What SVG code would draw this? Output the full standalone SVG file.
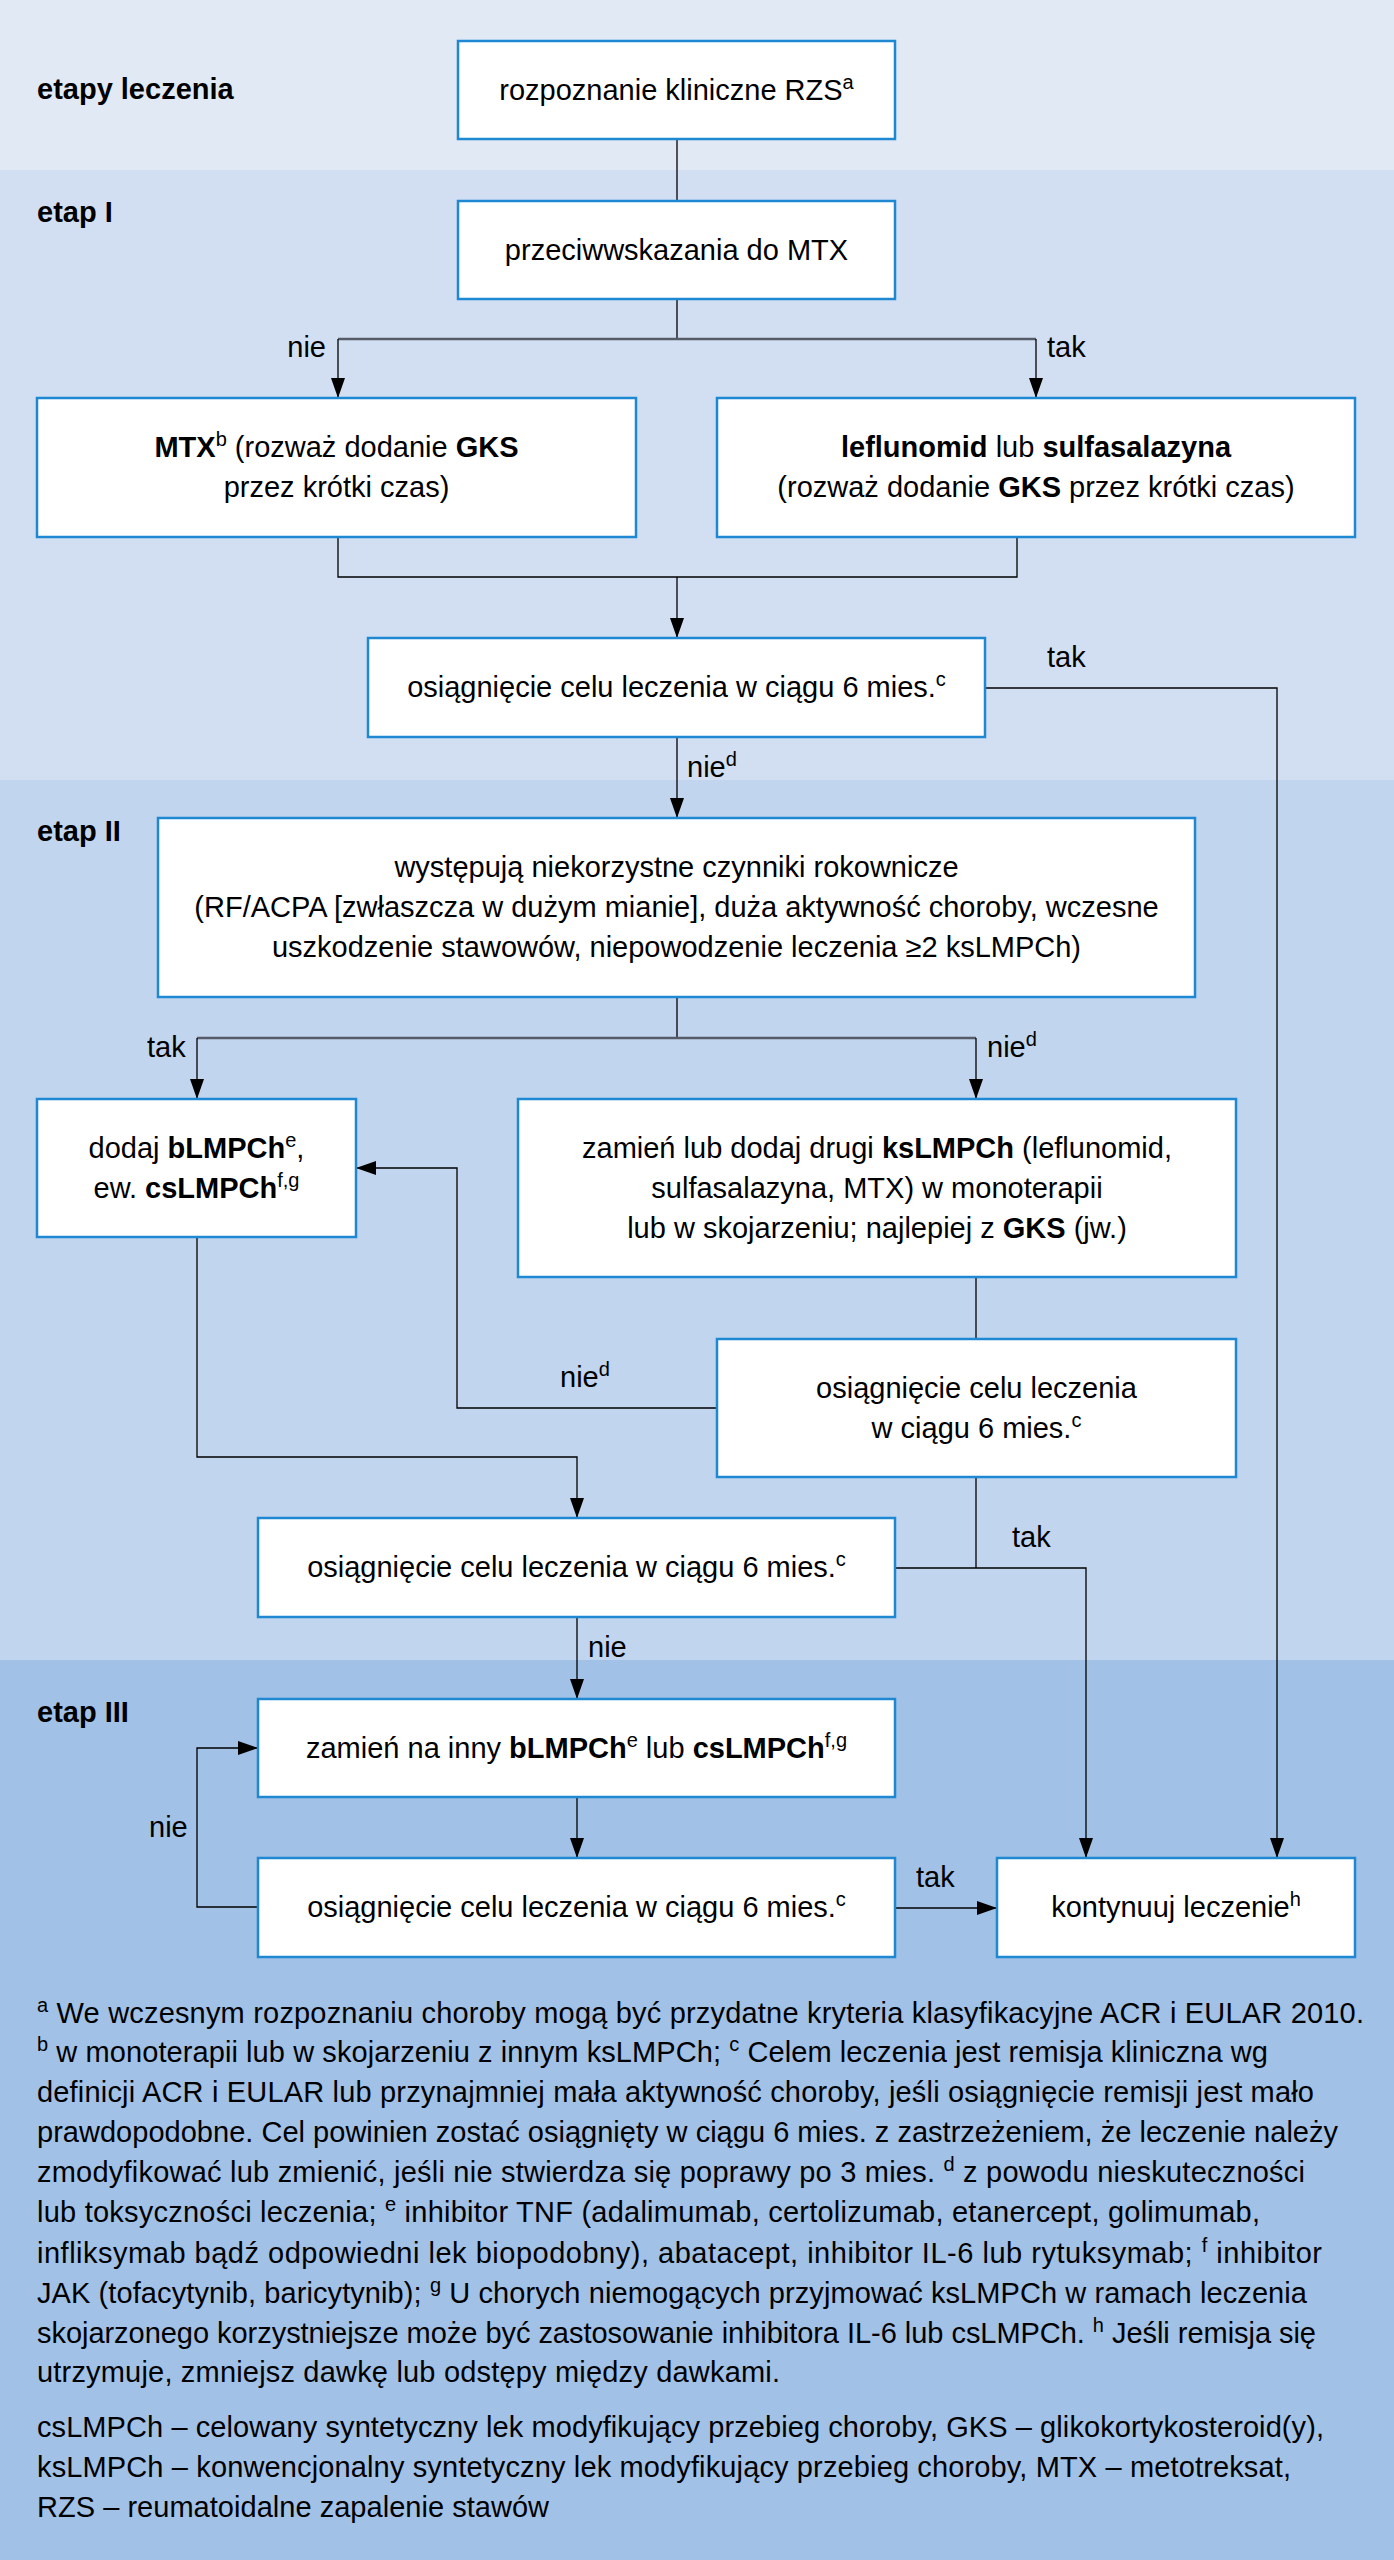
<svg xmlns="http://www.w3.org/2000/svg" width="1394" height="2560" viewBox="0 0 1394 2560">
<defs>
<style>
.t{font-family:"Liberation Sans",Arial,sans-serif;font-size:29px;fill:#000}
.m{text-anchor:middle}
.b{font-weight:bold}
.s{font-size:20px}
.box{fill:#fff;stroke:#1e88d2;stroke-width:2.5}
.ln{fill:none;stroke:#000;stroke-width:1.3}
.gr{fill:none;stroke:#555c68;stroke-width:2.4}
.ar{marker-end:url(#arr)}
</style>
<marker id="arr" markerUnits="userSpaceOnUse" markerWidth="20" markerHeight="14" refX="20" refY="7" orient="auto">
<path d="M0,0 L20,7 L0,14 z" fill="#000"/>
</marker>
</defs>
<g id="bands">
<rect x="0" y="0" width="1394" height="170" fill="#e1e9f5"/>
<rect x="0" y="170" width="1394" height="610" fill="#d2dff2"/>
<rect x="0" y="780" width="1394" height="880" fill="#c1d5ee"/>
<rect x="0" y="1660" width="1394" height="900" fill="#a2c1e6"/>
</g>
<g id="stage-labels" class="t b">
<text x="37" y="99">etapy leczenia</text>
<text x="37" y="222">etap I</text>
<text x="37" y="841">etap II</text>
<text x="37" y="1722">etap III</text>
</g>
<g id="connectors">
<path class="ln" d="M677,139 V201"/>
<path class="ln" d="M677,299 V339"/>
<path class="gr" d="M338,339 H1036"/>
<path class="ln ar" d="M338,339 V398"/>
<path class="ln ar" d="M1036,339 V398"/>
<path class="ln" d="M338,537 V577 H1017 V537"/>
<path class="ln ar" d="M677,577 V638"/>
<path class="ln ar" d="M985,688 H1277 V1858"/>
<path class="ln ar" d="M677,737 V818"/>
<path class="ln" d="M677,997 V1038"/>
<path class="gr" d="M197,1038 H976"/>
<path class="ln ar" d="M197,1038 V1099"/>
<path class="ln ar" d="M976,1038 V1099"/>
<path class="ln" d="M976,1277 V1339"/>
<path class="ln ar" d="M717,1408 H457 V1168 H356"/>
<path class="ln ar" d="M197,1237 V1457 H577 V1518"/>
<path class="ln" d="M976,1477 V1568"/>
<path class="ln ar" d="M895,1568 H1086 V1858"/>
<path class="ln ar" d="M577,1617 V1699"/>
<path class="ln ar" d="M577,1797 V1858"/>
<path class="ln ar" d="M895,1908 H997"/>
<path class="ln ar" d="M258,1907 H197 V1748 H258"/>
</g>
<g id="connector-labels" class="t">
<text x="326" y="357" text-anchor="end">nie</text>
<text x="1047" y="357">tak</text>
<text x="1047" y="667">tak</text>
<text x="687" y="777">nie<tspan class="s" dy="-11">d</tspan></text>
<text x="147" y="1057">tak</text>
<text x="987" y="1057">nie<tspan class="s" dy="-11">d</tspan></text>
<text x="560" y="1387">nie<tspan class="s" dy="-11">d</tspan></text>
<text x="1012" y="1547">tak</text>
<text x="588" y="1657">nie</text>
<text x="916" y="1887">tak</text>
<text x="149" y="1837">nie</text>
</g>
<g id="node-A">
<rect class="box" x="458" y="41" width="437" height="98"/>
<text class="t m" x="676.5" y="100">rozpoznanie kliniczne RZS<tspan class="s" dy="-11">a</tspan></text>
</g>
<g id="node-B">
<rect class="box" x="458" y="201" width="437" height="98"/>
<text class="t m" x="676.5" y="260">przeciwwskazania do MTX</text>
</g>
<g id="node-C">
<rect class="box" x="37" y="398" width="599" height="139"/>
<text class="t m" x="336.5" y="457"><tspan class="b">MTX</tspan><tspan class="s" dy="-11">b</tspan><tspan dy="11"> (rozważ dodanie </tspan><tspan class="b">GKS</tspan></text>
<text class="t m" x="336.5" y="497">przez krótki czas)</text>
</g>
<g id="node-D">
<rect class="box" x="717" y="398" width="638" height="139"/>
<text class="t m" x="1036" y="457"><tspan class="b">leflunomid</tspan> lub <tspan class="b">sulfasalazyna</tspan></text>
<text class="t m" x="1036" y="497">(rozważ dodanie <tspan class="b">GKS</tspan> przez krótki czas)</text>
</g>
<g id="node-E">
<rect class="box" x="368" y="638" width="617" height="99"/>
<text class="t m" x="676.5" y="697">osiągnięcie celu leczenia w ciągu 6 mies.<tspan class="s" dy="-11">c</tspan></text>
</g>
<g id="node-F">
<rect class="box" x="158" y="818" width="1037" height="179"/>
<text class="t m" x="676.5" y="877">występują niekorzystne czynniki rokownicze</text>
<text class="t m" x="676.5" y="917">(RF/ACPA [zwłaszcza w dużym mianie], duża aktywność choroby, wczesne</text>
<text class="t m" x="676.5" y="957">uszkodzenie stawowów, niepowodzenie leczenia ≥2 ksLMPCh)</text>
</g>
<g id="node-G">
<rect class="box" x="37" y="1099" width="319" height="138"/>
<text class="t m" x="196.5" y="1158">dodaj <tspan class="b">bLMPCh</tspan><tspan class="s" dy="-11">e</tspan><tspan dy="11">,</tspan></text>
<text class="t m" x="196.5" y="1198">ew. <tspan class="b">csLMPCh</tspan><tspan class="s" dy="-11">f,g</tspan></text>
</g>
<g id="node-H">
<rect class="box" x="518" y="1099" width="718" height="178"/>
<text class="t m" x="877" y="1158">zamień lub dodaj drugi <tspan class="b">ksLMPCh</tspan> (leflunomid,</text>
<text class="t m" x="877" y="1198">sulfasalazyna, MTX) w monoterapii</text>
<text class="t m" x="877" y="1238">lub w skojarzeniu; najlepiej z <tspan class="b">GKS</tspan> (jw.)</text>
</g>
<g id="node-I">
<rect class="box" x="717" y="1339" width="519" height="138"/>
<text class="t m" x="976.5" y="1398">osiągnięcie celu leczenia</text>
<text class="t m" x="976.5" y="1438">w ciągu 6 mies.<tspan class="s" dy="-11">c</tspan></text>
</g>
<g id="node-J">
<rect class="box" x="258" y="1518" width="637" height="99"/>
<text class="t m" x="576.5" y="1577">osiągnięcie celu leczenia w ciągu 6 mies.<tspan class="s" dy="-11">c</tspan></text>
</g>
<g id="node-L">
<rect class="box" x="258" y="1699" width="637" height="98"/>
<text class="t m" x="576.5" y="1758">zamień na inny <tspan class="b">bLMPCh</tspan><tspan class="s" dy="-11">e</tspan><tspan dy="11"> lub </tspan><tspan class="b">csLMPCh</tspan><tspan class="s" dy="-11">f,g</tspan></text>
</g>
<g id="node-M">
<rect class="box" x="258" y="1858" width="637" height="99"/>
<text class="t m" x="576.5" y="1917">osiągnięcie celu leczenia w ciągu 6 mies.<tspan class="s" dy="-11">c</tspan></text>
</g>
<g id="node-K">
<rect class="box" x="997" y="1858" width="358" height="99"/>
<text class="t m" x="1176" y="1917">kontynuuj leczenie<tspan class="s" dy="-11">h</tspan></text>
</g>
<g id="footnotes" class="t">
<text x="37" y="2023" textLength="1327"><tspan class="s" dy="-11">a</tspan><tspan dy="11"> We wczesnym rozpoznaniu choroby mogą być przydatne kryteria klasyfikacyjne ACR i EULAR 2010.</tspan></text>
<text x="37" y="2062" textLength="1231"><tspan class="s" dy="-11">b</tspan><tspan dy="11"> w monoterapii lub w skojarzeniu z innym ksLMPCh; </tspan><tspan class="s" dy="-11">c</tspan><tspan dy="11"> Celem leczenia jest remisja kliniczna wg</tspan></text>
<text x="37" y="2102" textLength="1277">definicji ACR i EULAR lub przynajmniej mała aktywność choroby, jeśli osiągnięcie remisji jest mało</text>
<text x="37" y="2142" textLength="1301">prawdopodobne. Cel powinien zostać osiągnięty w ciągu 6 mies. z zastrzeżeniem, że leczenie należy</text>
<text x="37" y="2182" textLength="1268">zmodyfikować lub zmienić, jeśli nie stwierdza się poprawy po 3 mies. <tspan class="s" dy="-11">d</tspan><tspan dy="11"> z powodu nieskuteczności</tspan></text>
<text x="37" y="2222" textLength="1223">lub toksyczności leczenia; <tspan class="s" dy="-11">e</tspan><tspan dy="11"> inhibitor TNF (adalimumab, certolizumab, etanercept, golimumab,</tspan></text>
<text x="37" y="2263" textLength="1285">infliksymab bądź odpowiedni lek biopodobny), abatacept, inhibitor IL-6 lub rytuksymab; <tspan class="s" dy="-11">f</tspan><tspan dy="11"> inhibitor</tspan></text>
<text x="37" y="2303" textLength="1270">JAK (tofacytynib, baricytynib); <tspan class="s" dy="-11">g</tspan><tspan dy="11"> U chorych niemogących przyjmować ksLMPCh w ramach leczenia</tspan></text>
<text x="37" y="2343" textLength="1279">skojarzonego korzystniejsze może być zastosowanie inhibitora IL-6 lub csLMPCh. <tspan class="s" dy="-11">h</tspan><tspan dy="11"> Jeśli remisja się</tspan></text>
<text x="37" y="2382" textLength="743">utrzymuje, zmniejsz dawkę lub odstępy między dawkami.</text>
<text x="37" y="2437" textLength="1287">csLMPCh – celowany syntetyczny lek modyfikujący przebieg choroby, GKS – glikokortykosteroid(y),</text>
<text x="37" y="2477" textLength="1254">ksLMPCh – konwencjonalny syntetyczny lek modyfikujący przebieg choroby, MTX – metotreksat,</text>
<text x="37" y="2517" textLength="512">RZS – reumatoidalne zapalenie stawów</text>
</g>
</svg>
